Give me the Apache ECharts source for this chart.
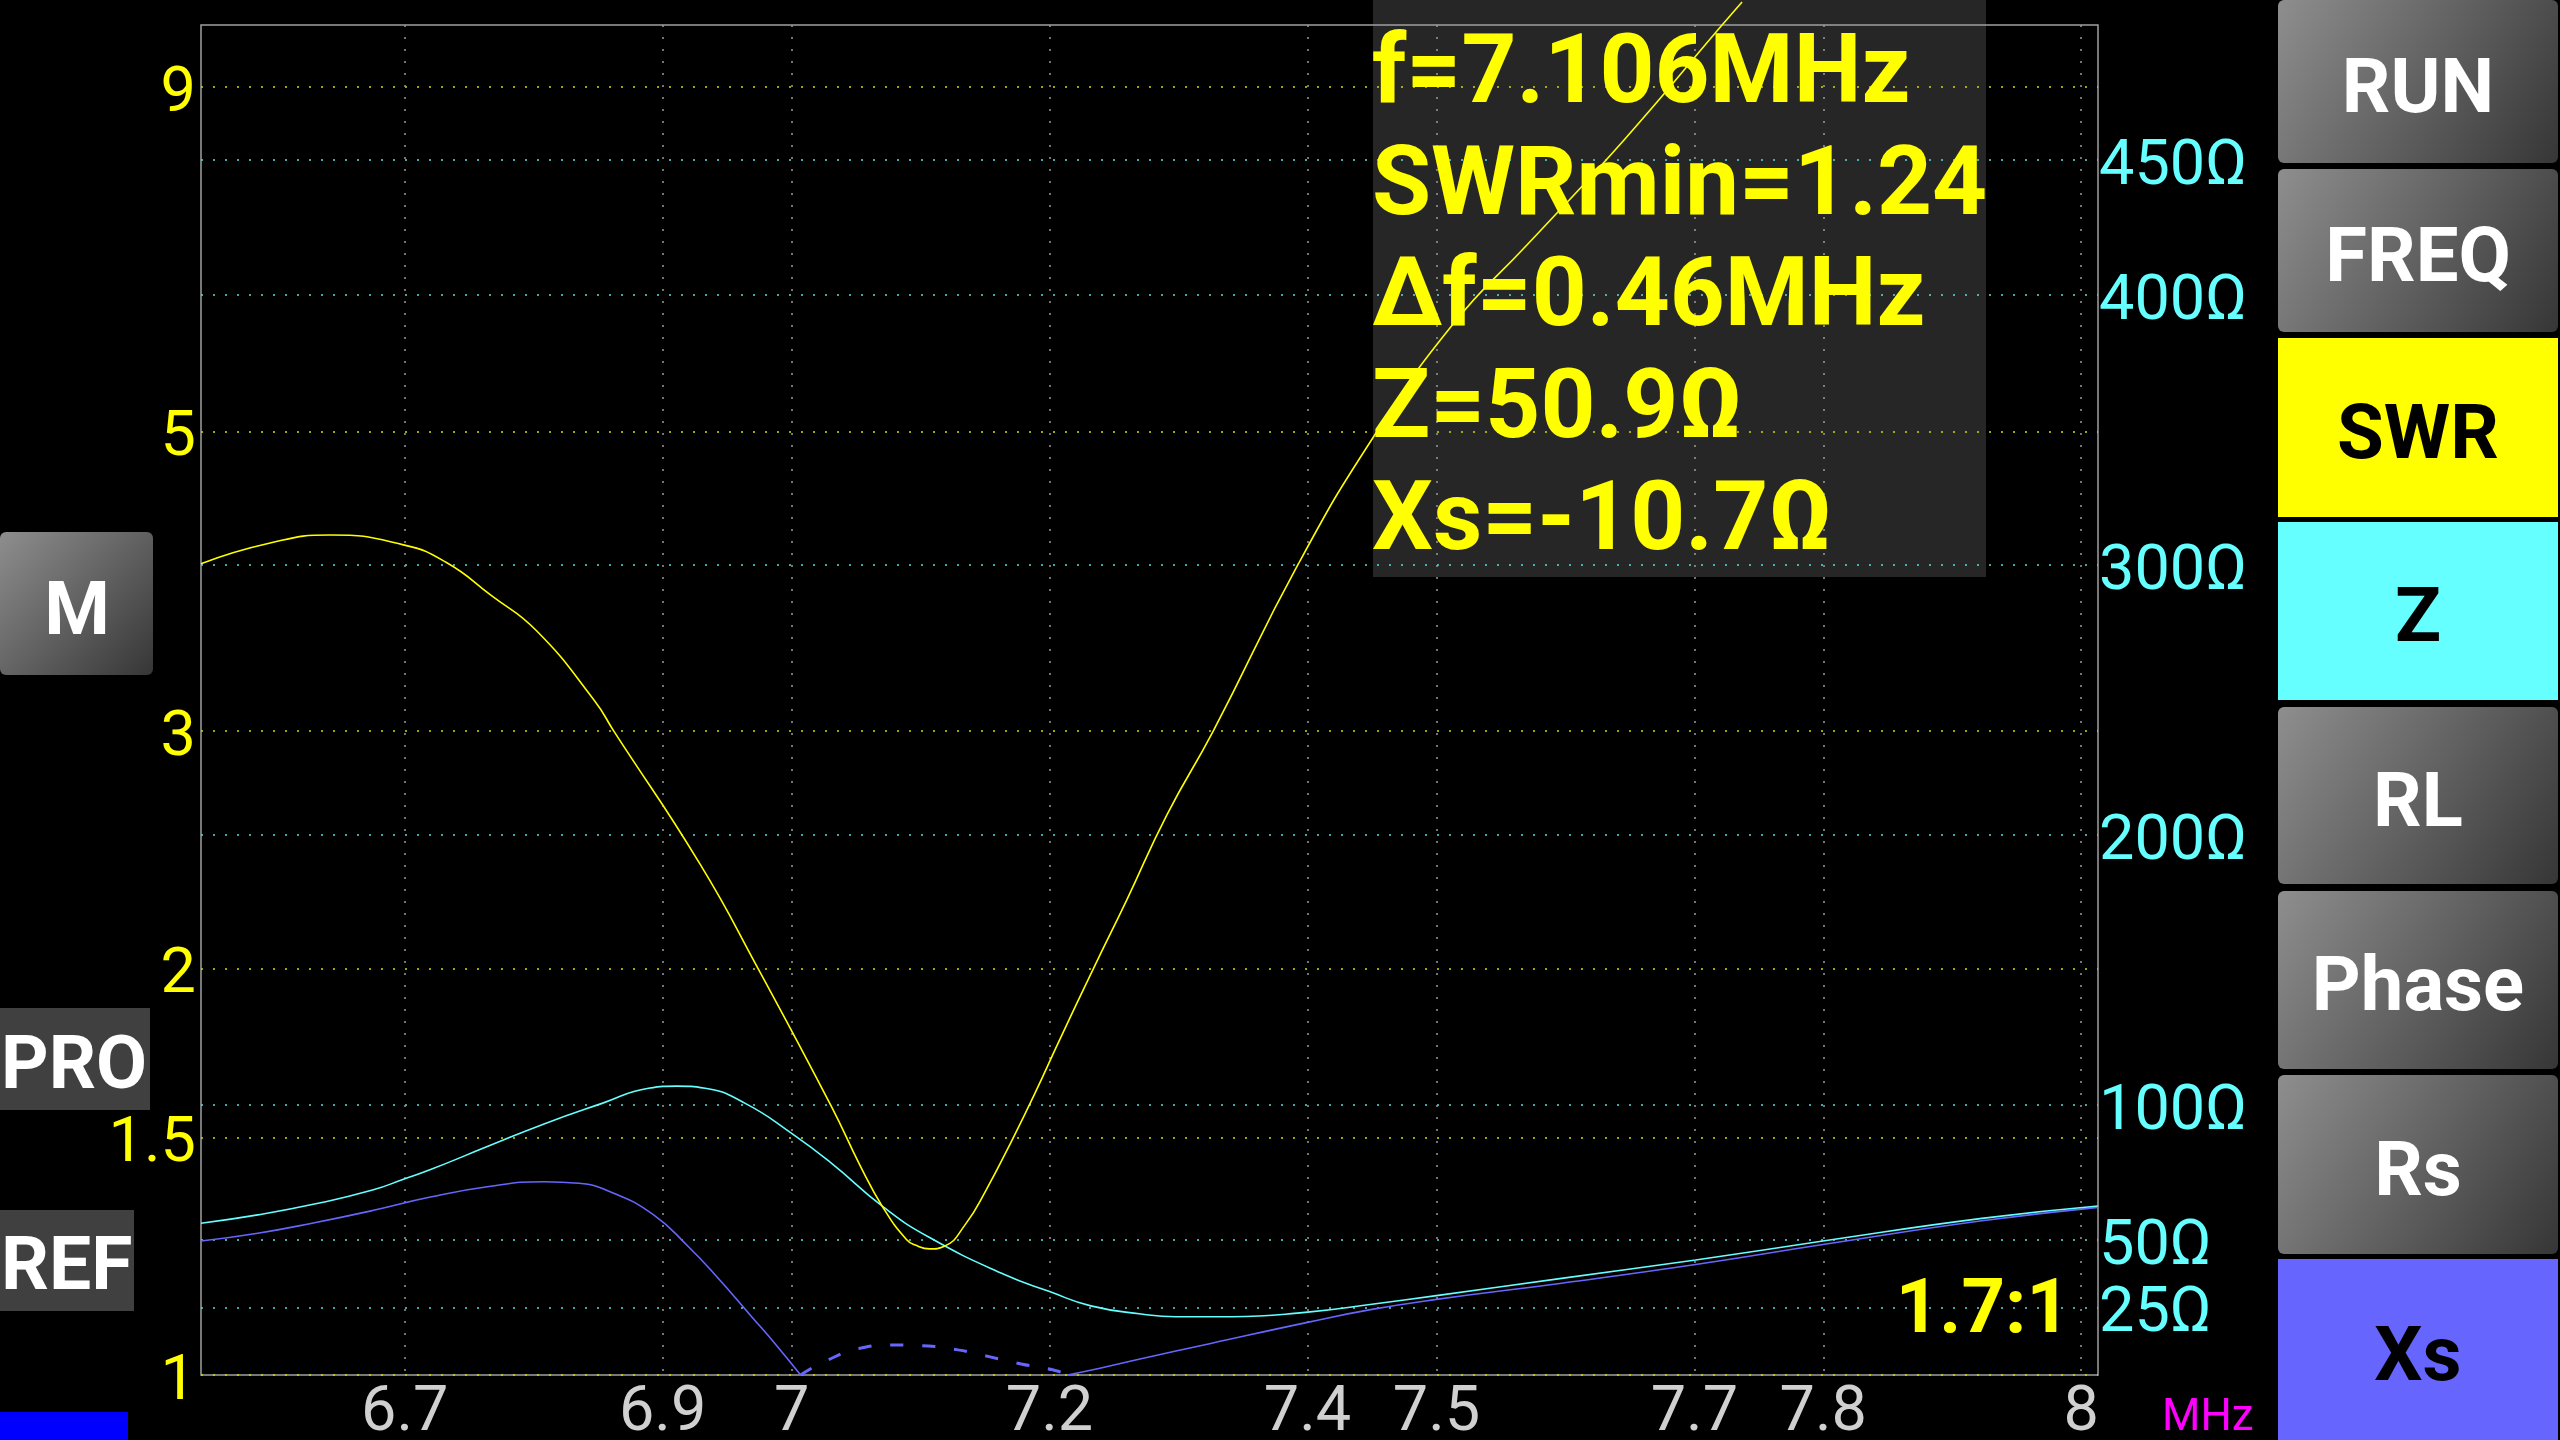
<!DOCTYPE html>
<html>
<head>
<meta charset="utf-8">
<style>
html,body{margin:0;padding:0;background:#000;}
#chart{width:2560px;height:1440px;}
</style>
<script src="https://cdn.jsdelivr.net/npm/echarts@6/dist/echarts.min.js"></script>
</head>
<body>
<div id="chart"></div>
<script>
// ---------- data ----------
const swrFreq = [6.542, 6.594, 6.642, 6.699, 6.732, 6.767, 6.802, 6.847, 6.862, 6.929, 6.974, 7.031, 7.053, 7.071, 7.089, 7.096, 7.107, 7.118, 7.135, 7.151, 7.172, 7.190, 7.206, 7.234, 7.260, 7.291, 7.327, 7.393, 7.451, 7.512, 7.572, 7.646, 7.720, 7.737];
const swrValues = [3.99, 4.13, 4.19, 4.12, 4.00, 3.78, 3.56, 3.16, 3.00, 2.39, 2.00, 1.58, 1.43, 1.33, 1.26, 1.248, 1.24, 1.245, 1.294, 1.372, 1.50, 1.627, 1.756, 2.00, 2.25, 2.60, 3.00, 3.99, 4.95, 5.99, 6.90, 8.23, 9.96, 10.4];

const zFreq = [6.542, 6.586, 6.630, 6.675, 6.699, 6.719, 6.764, 6.808, 6.853, 6.889, 6.911, 6.933, 6.964, 7.000, 7.031, 7.071, 7.107, 7.165, 7.200, 7.232, 7.271, 7.298, 7.341, 7.400, 7.450, 7.500, 7.597, 7.701, 7.801, 7.923, 8.013];
const zValues = [56.2, 59.3, 63.3, 68.5, 72.5, 75.9, 84.6, 93.0, 100.6, 106.2, 107.0, 106.2, 100.6, 89.5, 78.4, 62.3, 50.9, 37.2, 30.9, 25.6, 22.6, 21.6, 21.6, 23.3, 26.2, 29.4, 35.8, 42.6, 49.7, 58.0, 62.6];

const xsFreq = [6.542, 6.586, 6.630, 6.675, 6.719, 6.764, 6.808, 6.835, 6.862, 6.893, 6.920, 6.942, 6.969, 6.987, 7.007, 7.024, 7.053, 7.078, 7.106, 7.129, 7.153, 7.178, 7.205, 7.214, 7.239, 7.271, 7.325, 7.400, 7.450, 7.500, 7.597, 7.701, 7.801, 7.923, 8.013];
const xsValues = [49.6, 52.5, 56.4, 60.9, 65.8, 69.7, 71.6, 71.0, 67.3, 59.3, 47.5, 36.4, 21.6, 11.7, 0, -4.6, -9.9, -11.1, -10.7, -9.3, -6.8, -4.1, -1.6, 0, 2.5, 6.0, 11.7, 19.5, 24.3, 28.0, 34.0, 40.9, 48.4, 57.1, 62.1];

const freqTicks = [6.7, 6.9, 7, 7.2, 7.4, 7.5, 7.7, 7.8, 8];
const swrTicks = [1, 1.5, 2, 3, 5, 9];
const ohmTicks = [25, 50, 100, 200, 300, 400, 450];

const infoLines = ['f=7.106MHz', 'SWRmin=1.24', 'Δf=0.46MHz', 'Z=50.9Ω', 'Xs=-10.7Ω'];
const ratioText = '1.7:1';
const unitText = 'MHz';
const rightButtons = ['RUN', 'FREQ', 'SWR', 'Z', 'RL', 'Phase', 'Rs', 'Xs'];
const leftButtons = ['M', 'PRO', 'REF'];

// ---------- layout / style ----------
const grayGrad = {type: 'linear', x: 0, y: 0, x2: 1, y2: 1,
  colorStops: [{offset: 0, color: '#8e8e8e'}, {offset: 1, color: '#363636'}]};
const rightBtnLayout = [
  {y: 0, h: 163, fill: grayGrad, text: '#fff', r: 6},
  {y: 169, h: 163, fill: grayGrad, text: '#fff', r: 6},
  {y: 338, h: 179, fill: '#ffff00', text: '#000', r: 0},
  {y: 522, h: 178, fill: '#66ffff', text: '#000', r: 0},
  {y: 707, h: 177, fill: grayGrad, text: '#fff', r: 6},
  {y: 891, h: 178, fill: grayGrad, text: '#fff', r: 6},
  {y: 1075, h: 179, fill: grayGrad, text: '#fff', r: 6},
  {y: 1259, h: 181, fill: '#6666ff', text: '#000', r: 0}
];

const swrData = swrFreq.map((f, i) => [f, swrValues[i]]);
const zData = zFreq.map((f, i) => [f, zValues[i]]);
const xsSolid = xsFreq.map((f, i) => xsValues[i] >= 0 ? [f, xsValues[i]] : [f, '-']);
const xsDashed = xsFreq.map((f, i) => xsValues[i] <= 0 ? [f, Math.abs(xsValues[i])] : [f, '-']);

function txt(x, y, text, font, fill, align, z) {
  return {type: 'text', z: z, x: x, y: y,
    style: {text: text, font: font, fill: fill, align: align, verticalAlign: 'middle',
      textAlign: align, textVerticalAlign: 'middle'}};
}

const graphics = [];
// info box
graphics.push({type: 'rect', z: -1, shape: {x: 1373, y: 0, width: 613, height: 577}, style: {fill: '#262626'}, silent: true});
const infoY = [78, 190, 301, 413, 525];
infoLines.forEach((t, i) => {
  graphics.push(txt(1372, infoY[i], t, 'bold 96px Roboto', '#ffff00', 'left', 50));
});
// ratio and unit
graphics.push(txt(2070, 1313, ratioText, 'bold 76px Roboto', '#ffff00', 'right', 50));
graphics.push(txt(2162, 1419, unitText, '44px Roboto', '#ff00ff', 'left', 50));
// right buttons
rightButtons.forEach((name, i) => {
  const b = rightBtnLayout[i];
  graphics.push({type: 'rect', z: 40, shape: {x: 2278, y: b.y, width: 280, height: b.h, r: b.r}, style: {fill: b.fill}});
  graphics.push(txt(2418, b.y + b.h / 2 + 11, name, 'bold 76px Roboto', b.text, 'center', 41));
});
// left buttons
graphics.push({type: 'rect', z: 40, shape: {x: 0, y: 532, width: 153, height: 143, r: 6}, style: {fill: grayGrad}});
graphics.push(txt(77, 615, leftButtons[0], 'bold 75px Roboto', '#fff', 'center', 41));
graphics.push({type: 'rect', z: 40, shape: {x: 0, y: 1008, width: 150, height: 102}, style: {fill: '#404040'}});
graphics.push(txt(1, 1069, leftButtons[1], 'bold 74px Roboto', '#fff', 'left', 41));
graphics.push({type: 'rect', z: 40, shape: {x: 0, y: 1210, width: 134, height: 101}, style: {fill: '#404040'}});
graphics.push(txt(1, 1270, leftButtons[2], 'bold 75px Roboto', '#fff', 'left', 41));
graphics.push({type: 'rect', z: 40, shape: {x: 0, y: 1412, width: 128, height: 28}, style: {fill: '#0000ff'}});

const chart = echarts.init(document.getElementById('chart'), null, {renderer: 'canvas'});
chart.setOption({
  backgroundColor: '#000000',
  animation: false,
  grid: {left: 201, top: 25, width: 1897, height: 1350, show: true, borderColor: '#a0a0a0', borderWidth: 1.5,
    backgroundColor: 'transparent', containLabel: false, outerBoundsMode: 'none'},
  xAxis: {
    type: 'value', min: 6.542, max: 8.013,
    axisLine: {show: false},
    axisTick: {show: false, customValues: freqTicks},
    axisLabel: {customValues: freqTicks, color: '#d0d0d0', fontSize: 63, fontFamily: 'Roboto', margin: 8,
      hideOverlap: false, formatter: v => String(+(+v).toFixed(2))},
    splitLine: {show: true, lineStyle: {color: '#9a9a9a', type: [2, 10], width: 1.5}}
  },
  yAxis: [
    {
      type: 'log', logBase: 10, min: 1, max: 10, position: 'left',
      axisLine: {show: false},
      axisTick: {show: false, customValues: swrTicks},
      axisLabel: {customValues: swrTicks, color: '#ffff00', fontSize: 63, fontFamily: 'Roboto', margin: 5,
        verticalAlign: 'top', lineHeight: 16, hideOverlap: false, formatter: v => String(+(+v).toFixed(2))},
      splitLine: {show: true, lineStyle: {color: '#d8d800', type: [2, 10], width: 1.5}}
    },
    {
      type: 'value', min: 0, max: 500, position: 'right',
      axisLine: {show: false},
      axisTick: {show: false, customValues: ohmTicks},
      axisLabel: {customValues: ohmTicks, color: '#66ffff', fontSize: 63, fontFamily: 'Roboto', margin: 1,
        verticalAlign: 'top', lineHeight: 16, hideOverlap: false, formatter: v => String(+(+v).toFixed(0)) + 'Ω'},
      splitLine: {show: true, lineStyle: {color: '#55dddd', type: [2, 10], width: 1.5}}
    }
  ],
  series: [
    {name: 'Xs', type: 'line', yAxisIndex: 1, data: xsSolid, showSymbol: false, symbol: 'none',
      smooth: 0.5, connectNulls: false,
      lineStyle: {color: '#6666ff', width: 1.6}, z: 3},
    {name: 'Xs neg', type: 'line', yAxisIndex: 1, data: xsDashed, showSymbol: false, symbol: 'none',
      smooth: 0.5, connectNulls: false,
      lineStyle: {color: '#6666ff', width: 3, type: [13, 19]}, z: 3},
    {name: 'Z', type: 'line', yAxisIndex: 1, data: zData, showSymbol: false, symbol: 'none',
      smooth: 0.5,
      lineStyle: {color: '#66ffff', width: 1.6}, z: 4},
    {name: 'SWR', type: 'line', yAxisIndex: 0, data: swrData, showSymbol: false, symbol: 'none',
      smooth: 0.5, clip: false,
      lineStyle: {color: '#ffff00', width: 1.6}, z: 5}
  ],
  graphic: {elements: graphics}
});
</script>
</body>
</html>
